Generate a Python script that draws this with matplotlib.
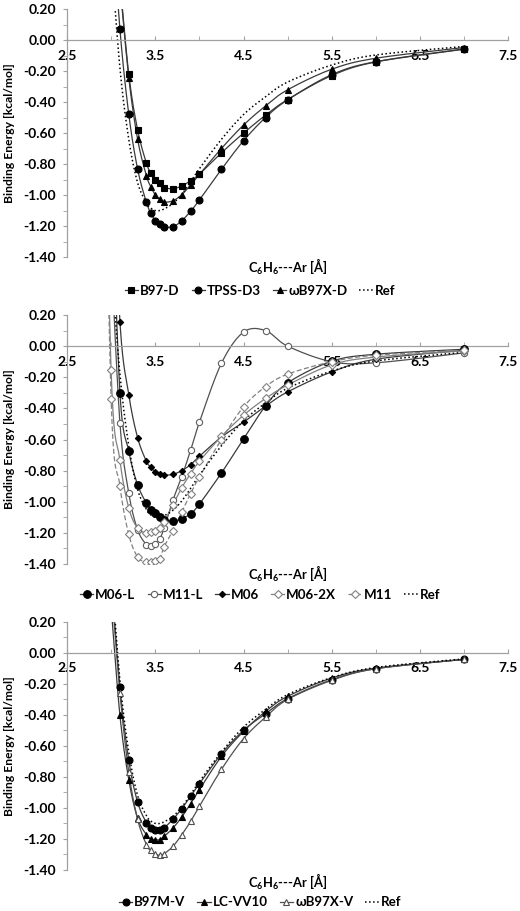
import numpy as np
import matplotlib
matplotlib.use("Agg")
import matplotlib.pyplot as plt
from matplotlib.lines import Line2D
from matplotlib.ticker import MultipleLocator, FormatStrFormatter

plt.rcParams['font.family'] = ['Lato', 'DejaVu Sans']
plt.rcParams['font.weight'] = 'bold'
plt.rcParams['axes.unicode_minus'] = False
plt.rcParams['mathtext.fontset'] = 'custom'
plt.rcParams['mathtext.rm'] = 'Lato:bold'
plt.rcParams['mathtext.it'] = 'Lato:bold'
plt.rcParams['mathtext.bf'] = 'Lato:bold'

nan = np.nan

# C6H6---Ar distance [A]
dist = [2.9, 3.0, 3.1, 3.2, 3.3, 3.4, 3.45, 3.5, 3.55, 3.6, 3.7, 3.8, 3.9, 4.0,
        4.25, 4.5, 4.75, 5.0, 5.5, 6.0, 7.0]

ref = [nan, 0.55, -0.18, -0.64, -0.92, -1.05, -1.085, -1.10, -1.10, -1.09, -1.055,
       -0.995, -0.915, -0.83, -0.64, -0.48, -0.365, -0.27, -0.16, -0.095, -0.04]

# panel 1
b97d = [nan, nan, 0.38, -0.219, -0.578, -0.794, -0.856, -0.90, -0.925, -0.952, -0.958,
        -0.942, -0.907, -0.865, -0.727, -0.60, -0.484, -0.383, -0.228, -0.14, -0.058]
tpss_d3 = [nan, 0.9, 0.071, -0.477, -0.832, -1.047, -1.116, -1.166, -1.19, -1.205, -1.205,
           -1.166, -1.105, -1.032, -0.834, -0.649, -0.499, -0.385, -0.222, -0.138, -0.056]
wb97xd = [nan, nan, 0.36, -0.241, -0.639, -0.875, -0.946, -0.998, -1.026, -1.045, -1.037,
          -0.998, -0.935, -0.867, -0.699, -0.548, -0.424, -0.320, -0.187, -0.116, -0.047]

# panel 2
m06l = [nan, 1.2, -0.30, -0.676, -0.89, -1.01, -1.05, -1.075, -1.095, -1.115, -1.125,
        -1.108, -1.078, -1.015, -0.815, -0.597, -0.384, -0.236, -0.097, -0.052, -0.02]
m11l = [nan, 0.6, -0.494, -0.944, -1.18, -1.275, -1.285, -1.27, -1.24, -1.17, -0.99,
        -0.84, -0.67, -0.49, -0.11, 0.09, 0.10, 0.0, -0.10, -0.107, -0.043]
m06 = [nan, 1.5, 0.157, -0.311, -0.588, -0.74, -0.777, -0.808, -0.82, -0.828, -0.824,
       -0.80, -0.762, -0.708, -0.584, -0.489, -0.385, -0.294, -0.165, -0.084, -0.026]
m062x = [2.5, -0.155, -0.734, -1.04, -1.17, -1.20, -1.195, -1.185, -1.17, -1.13, -1.02,
         -0.91, -0.82, -0.74, -0.58, -0.444, -0.336, -0.25, -0.12, -0.07, -0.03]
m11 = [2.5, -0.337, -0.899, -1.21, -1.355, -1.388, -1.384, -1.378, -1.365, -1.29, -1.185,
       -1.067, -0.948, -0.841, -0.60, -0.39, -0.26, -0.18, -0.10, -0.058, -0.026]

# panel 3
b97mv = [nan, 0.5, -0.221, -0.694, -0.962, -1.096, -1.13, -1.14, -1.14, -1.128, -1.074,
         -1.005, -0.926, -0.844, -0.651, -0.50, -0.393, -0.296, -0.174, -0.103, -0.043]
lcvv10 = [nan, 0.3, -0.404, -0.818, -1.066, -1.173, -1.199, -1.205, -1.205, -1.184, -1.13,
          -1.059, -0.973, -0.883, -0.668, -0.507, -0.378, -0.281, -0.163, -0.099, -0.043]
wb97xv = [nan, 0.45, -0.26, -0.769, -1.074, -1.237, -1.274, -1.295, -1.306, -1.295, -1.248,
          -1.173, -1.087, -0.99, -0.752, -0.554, -0.415, -0.301, -0.178, -0.103, -0.043]

xticks = [2.5, 3.5, 4.5, 5.5, 6.5, 7.5]


def smooth(x, y, n=24):
    # excel-like smoothed line (catmull-rom as cubic bezier)
    x = np.asarray(x, float)
    y = np.asarray(y, float)
    ok = np.isfinite(y)
    p = np.column_stack([x[ok], y[ok]])
    p = np.vstack([p[0], p, p[-1]])
    t = np.linspace(0, 1, n)[:, None]
    out = []
    for i in range(1, len(p) - 2):
        p0, p1, p2, p3 = p[i - 1], p[i], p[i + 1], p[i + 2]
        c1 = p1 + (p2 - p0) / 6
        c2 = p2 - (p3 - p1) / 6
        seg = ((1 - t) ** 3) * p1 + 3 * ((1 - t) ** 2) * t * c1 + 3 * (1 - t) * t ** 2 * c2 + t ** 3 * p2
        out.append(seg)
    out = np.vstack(out)
    return out[:, 0], out[:, 1]


dark = '#3a3a3a'
grey = '#808080'
panels = [
    [('B97-D', b97d, dict(color=dark, ls='-', marker='s', ms=4.5, mfc='black', mec='black')),
     ('TPSS-D3', tpss_d3, dict(color=dark, ls='-', marker='o', ms=5, mfc='black', mec='black')),
     ('ωB97X-D', wb97xd, dict(color=dark, ls='-', marker='^', ms=5, mfc='black', mec='black')),
     ('Ref', ref, dict(color='black', ls=':', marker=None))],
    [('M06-L', m06l, dict(color=dark, ls='-', marker='o', ms=5.5, mfc='black', mec='black')),
     ('M11-L', m11l, dict(color='#505050', ls='-', marker='o', ms=4.5, mfc='white', mec='#606060')),
     ('M06', m06, dict(color=dark, ls='-', marker='D', ms=3.2, mfc='black', mec='black')),
     ('M06-2X', m062x, dict(color=grey, ls='-', marker='D', ms=3.6, mfc='white', mec=grey)),
     ('M11', m11, dict(color=grey, ls=(0, (4, 2)), marker='D', ms=3.6, mfc='white', mec=grey)),
     ('Ref', ref, dict(color='black', ls=':', marker=None))],
    [('B97M-V', b97mv, dict(color=dark, ls='-', marker='o', ms=5, mfc='black', mec='black')),
     ('LC-VV10', lcvv10, dict(color=dark, ls='-', marker='^', ms=5, mfc='black', mec='black')),
     ('ωB97X-V', wb97xv, dict(color='#505050', ls='-', marker='^', ms=5, mfc='white', mec='#505050')),
     ('Ref', ref, dict(color='black', ls=':', marker=None))],
]

# axes boxes in figure fractions
boxes = [(0.1288, 0.7179, 0.8487, 0.2719),
         (0.1288, 0.3809, 0.8487, 0.2733),
         (0.1288, 0.0450, 0.8487, 0.2726)]
legend_y = [0.6806, 0.3469, 0.0095]
xlabel_y = [0.7069, 0.3699, 0.0318]

fig = plt.figure(figsize=(5.2, 9.11), dpi=100)
axis_col = '#a0a0a0'
fs = 9.3

for series, box, ly, xy in zip(panels, boxes, legend_y, xlabel_y):
    ax = fig.add_axes(box)
    handles = []
    for name, vals, st in series:
        sx, sy = smooth(dist, vals)
        lw = 0.9 if st['ls'] != ':' else 1.1
        ax.plot(sx, sy, color=st['color'], ls=st['ls'], lw=lw, zorder=2)
        if st['marker']:
            ax.plot(dist, vals, ls='none', marker=st['marker'], ms=st['ms'],
                    mfc=st['mfc'], mec=st['mec'], mew=0.8, zorder=3)
            handles.append(Line2D([0], [0], color=st['color'], ls=st['ls'], lw=lw,
                                  marker=st['marker'], ms=st['ms'], mfc=st['mfc'],
                                  mec=st['mec'], mew=0.8, label=name))
        else:
            handles.append(Line2D([0], [0], color=st['color'], ls=st['ls'], lw=lw, label=name))

    ax.set_xlim(2.5, 7.5)
    ax.set_ylim(-1.4, 0.2)
    ax.spines['top'].set_visible(False)
    ax.spines['right'].set_visible(False)
    ax.spines['bottom'].set_position(('data', 0))
    for s in ('left', 'bottom'):
        ax.spines[s].set_color(axis_col)
        ax.spines[s].set_linewidth(0.9)
    ax.set_xticks(xticks)
    ax.xaxis.set_minor_locator(MultipleLocator(0.5))
    ax.xaxis.set_major_formatter(FormatStrFormatter('%.1f'))
    ax.yaxis.set_major_locator(MultipleLocator(0.2))
    ax.yaxis.set_minor_locator(MultipleLocator(0.1))
    ax.yaxis.set_major_formatter(FormatStrFormatter('%.2f'))
    ax.tick_params(axis='x', which='both', direction='in', length=3, color=axis_col,
                   labelsize=fs + 0.7, pad=7)
    ax.tick_params(axis='y', which='both', direction='out', length=3, color=axis_col,
                   labelsize=fs + 0.7, pad=5)
    for lab in ax.get_xticklabels() + ax.get_yticklabels():
        lab.set_fontweight('bold')
    ax.patch.set_visible(False)

    fig.text(0.5529, xy, r'C$_6$H$_6$---Ar [Å]', ha='center', va='center',
             fontsize=fs, fontweight='bold')
    fig.text(0.019, box[1] + box[3] / 2, 'Binding Energy [kcal/mol]', rotation=90,
             ha='center', va='center', fontsize=fs - 0.6, fontweight='bold')
    fig.legend(handles=handles, loc='center', bbox_to_anchor=(0.5, ly), ncol=len(handles),
               frameon=False, handlelength=1.0, handletextpad=0.15, columnspacing=0.9,
               prop=dict(size=fs + 0.3, weight='bold'))

fig.savefig('out.png', dpi=100)
